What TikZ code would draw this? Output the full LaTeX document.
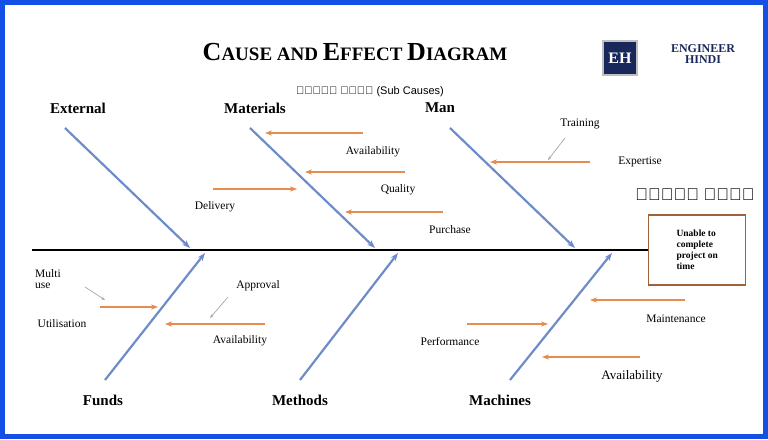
\documentclass[tikz,border=0pt]{standalone}
\usepackage{fontspec}
\setmainfont{Liberation Serif}
\setsansfont{Liberation Sans}
\usetikzlibrary{arrows.meta}
\definecolor{bone}{RGB}{110,140,200}
\definecolor{sub}{RGB}{230,140,80}
\definecolor{frame}{RGB}{20,80,230}
\definecolor{navy}{RGB}{25,40,90}
\newcommand{\capsA}[1]{{\fontsize{26}{26}\selectfont #1}}
\tikzset{
  bone/.style={draw=bone, line width=2.2pt, -{Stealth[length=8pt]}},
  cause/.style={draw=sub, line width=1.8pt, -{Stealth[length=7pt]}},
  hint/.style={draw=gray!70, line width=0.7pt, -{Stealth[length=4pt]}},
  head/.style={font=\bfseries\fontsize{15}{15}\selectfont},
  lbl/.style={font=\fontsize{11.5}{11.5}\selectfont}
}
\begin{document}
\begin{tikzpicture}[x=1pt, y=-1pt]
  \useasboundingbox (0,0) rectangle (768,439);
  \draw [frame, line width=5pt] (2.5,2.5) rectangle (765.5,436.5);
  \node [font=\bfseries\fontsize{19}{19}\selectfont] (title) at (355,52) {\capsA{C}AUSE AND \capsA{E}FFECT \capsA{D}IAGRAM};
  % logo
  \node [fill=navy, draw=gray!50, line width=1.5pt, minimum width=34pt, minimum height=34pt, text=white, font=\bfseries\fontsize{16}{16}\selectfont] (logo) at (620,58) {EH};
  \node [text=navy, font=\bfseries\fontsize{12}{11}\selectfont, align=center, inner sep=0pt] (brand) at (703,54) {ENGINEER\\HINDI};
  \node [font=\sffamily\fontsize{11}{11}\selectfont] (sub) at (370,92) {दूसरे कारण (Sub Causes)};
  \node [font=\sffamily\fontsize{17}{17}\selectfont] (main) at (695,195) {मुख्य कारण};
  % spine and effect
  \coordinate (s0) at (32,250);
  \node [draw=sub!70!black, line width=1.4pt, minimum width=97pt, minimum height=70pt, anchor=west, align=left, font=\bfseries\fontsize{9.5}{11}\selectfont] (effect) at (648,250) {Unable to\\complete\\project on\\time};
  \draw [line width=2.6pt] (s0) -- (effect.west);
  % bones
  \coordinate (e1) at (65,128);  \coordinate (e2) at (190,248);
  \coordinate (m1) at (250,128); \coordinate (m2) at (375,248);
  \coordinate (n1) at (450,128); \coordinate (n2) at (575,248);
  \coordinate (f1) at (105,380); \coordinate (f2) at (205,253);
  \coordinate (t1) at (300,380); \coordinate (t2) at (398,253);
  \coordinate (c1) at (510,380); \coordinate (c2) at (612,253);
  \foreach \a/\b in {e1/e2, m1/m2, n1/n2, f1/f2, t1/t2, c1/c2}
    \draw [bone] (\a) -- (\b);
  \node [head] (ext) at (78,108) {External};
  \node [head] (mat) at (255,108) {Materials};
  \node [head] (man) at (440,108) {Man};
  \node [head] (fun) at (103,400) {Funds};
  \node [head] (met) at (300,400) {Methods};
  \node [head] (mac) at (500,400) {Machines};
  % sub causes
  \foreach \x/\y/\u in {363/133/265, 405/172/305, 443/212/345, 213/189/297, 590/162/490,
                        100/307/158, 265/324/165, 467/324/548, 685/300/590, 640/357/542}
    \draw [cause] (\x,\y) -- (\u,\y);
  \node [lbl] (av1) at (373,152) {Availability};
  \node [lbl] (qua) at (398,190) {Quality};
  \node [lbl] (pur) at (450,230) {Purchase};
  \node [lbl] (del) at (215,207) {Delivery};
  \node [lbl] (exp) at (640,162) {Expertise};
  \node [lbl] (tra) at (580,124) {Training};
  \node [lbl] (uti) at (62,324) {Utilisation};
  \node [lbl, align=left] (mul) at (48,279) {Multi\\use};
  \node [lbl] (av2) at (240,341) {Availability};
  \node [lbl] (app) at (258,286) {Approval};
  \node [lbl] (per) at (450,342) {Performance};
  \node [lbl] (mai) at (676,319) {Maintenance};
  \node [lbl, font=\fontsize{13}{13}\selectfont] (av3) at (632,376) {Availability};
  \draw [hint] (565,138) -- (548,160);
  \draw [hint] (85,287) -- (105,300);
  \draw [hint] (228,297) -- (210,318);
\end{tikzpicture}
\end{document}
